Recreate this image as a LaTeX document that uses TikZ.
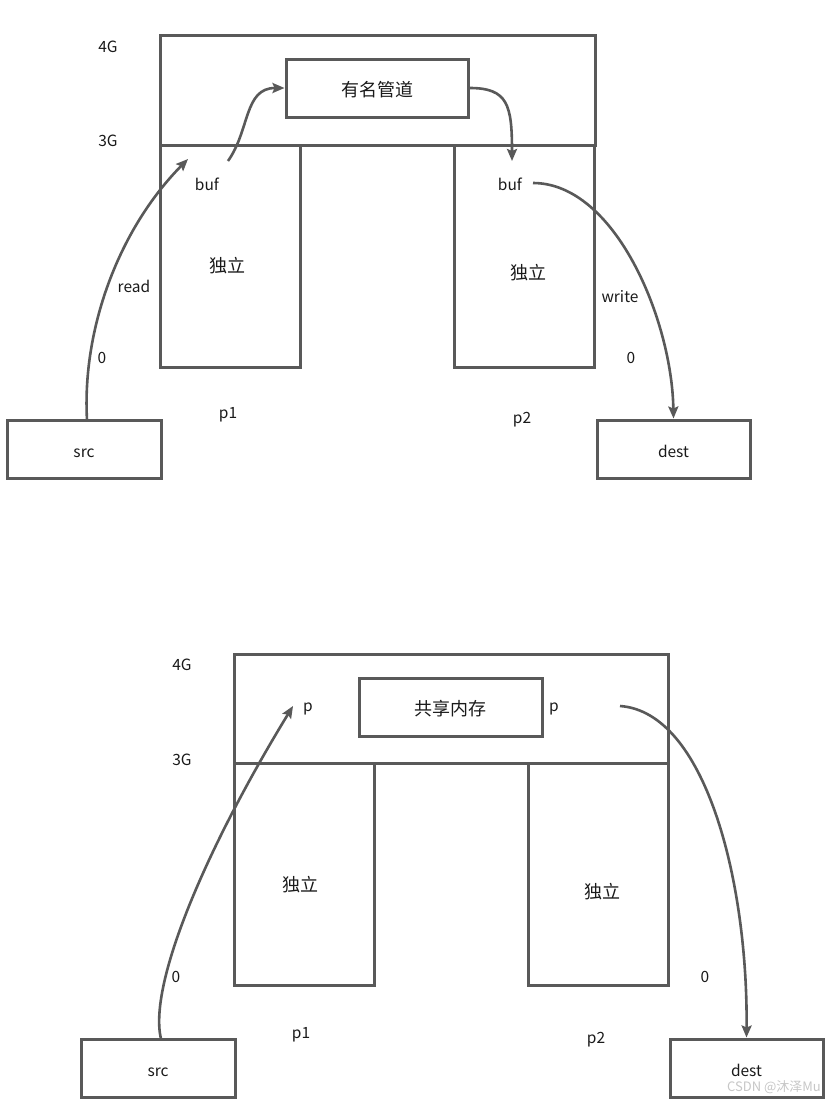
\documentclass[tikz,border=0pt]{standalone}
\usepackage{fontspec}
\setmainfont{Noto Sans CJK SC}
\usetikzlibrary{arrows.meta}
\definecolor{ln}{HTML}{595959}
\definecolor{tx}{HTML}{1A1A1A}
\tikzset{
  box/.style={draw=ln, line width=3pt, inner sep=0pt},
  lbl/.style={text=tx, font=\fontsize{15.5pt}{18pt}\selectfont, inner sep=0pt},
  cjk/.style={text=tx, font=\fontsize{18pt}{20pt}\selectfont, inner sep=0pt},
  lowlat/.style={text height=16pt, text depth=0pt},
  lowcjk/.style={text height=16pt, text depth=0pt},
  conn/.style={draw=ln, line width=2.6pt, -{Stealth[length=12pt,width=10pt,inset=2pt]}},
}
\begin{document}
\begin{tikzpicture}[x=1pt,y=-1pt]
\useasboundingbox[fill=white] (0,0) rectangle (834,1103);
% ---------- top diagram ----------
\draw[box] (160,35) rectangle (595,145);
\draw[box] (160,145) rectangle (300,367);
\draw[box] (454,145) rectangle (594,367);
\node[box, minimum width=182pt, minimum height=58pt, cjk, lowcjk] (pipe) at (377,88) {有名管道};
\node[box, minimum width=154pt, minimum height=58pt, lbl, lowlat] (src1) at (84,449) {src};
\node[box, minimum width=153pt, minimum height=58pt, lbl, lowlat] (dest1) at (673.5,449) {dest};
\node[lbl] (g4a) at (108,47) {4G};
\node[lbl] (g3a) at (108,141) {3G};
\node[lbl] (bufL) at (207,184) {buf};
\node[lbl] (bufR) at (510,184) {buf};
\node[cjk] (indL1) at (227,266) {独立};
\node[cjk] (indR1) at (528,273) {独立};
\node[lbl] (read) at (134,286) {read};
\node[lbl] (write) at (620,297) {write};
\node[lbl] (zL1) at (102,358) {0};
\node[lbl] (zR1) at (631,358) {0};
\node[lbl] (p1a) at (228,415) {p1};
\node[lbl] (p2a) at (522,420) {p2};
\coordinate (s1) at (87,420);
\coordinate (t1) at (188,159);
\coordinate (u1) at (228,161);
\coordinate (v1) at (512,161);
\coordinate (w1) at (533,183);
\draw[conn] (s1) .. controls (82,330) and (118,230) .. (t1);
\draw[conn] (u1) .. controls (250,130) and (244,88) .. (pipe.west);
\draw[conn] (pipe.east) .. controls (508,88) and (512,105) .. (v1);
\draw[conn] (w1) .. controls (615,183) and (672,320) .. (dest1.north);
% ---------- bottom diagram ----------
\draw[box] (234,654) rectangle (668,763);
\draw[box] (234,763) rectangle (374,985);
\draw[box] (528,763) rectangle (668,985);
\node[box, minimum width=183pt, minimum height=58pt, cjk, lowcjk] (shm) at (450.5,707) {共享内存};
\node[box, minimum width=154pt, minimum height=58pt, lbl, lowlat] (src2) at (158,1068) {src};
\node[box, minimum width=153pt, minimum height=58pt, lbl, lowlat] (dest2) at (746.5,1068) {dest};
\node[lbl] (g4b) at (182,665) {4G};
\node[lbl] (g3b) at (182,760) {3G};
\node[lbl] (pL) at (308,709) {p};
\node[lbl] (pR) at (554,709) {p};
\node[cjk] (indL2) at (300,885) {独立};
\node[cjk] (indR2) at (602,892) {独立};
\node[lbl] (zL2) at (176,977) {0};
\node[lbl] (zR2) at (705,977) {0};
\node[lbl] (p1b) at (301,1035) {p1};
\node[lbl] (p2b) at (596,1040) {p2};
\coordinate (s2) at (161,1039);
\coordinate (t2) at (293,706);
\coordinate (w2) at (620,706);
\draw[conn] (s2) .. controls (148,985) and (205,850) .. (t2);
\draw[conn] (w2) .. controls (705,712) and (748,880) .. (dest2.north);
\node[text=black!22, font=\fontsize{13pt}{15pt}\selectfont, inner sep=0pt, anchor=east] (wm) at (821,1087) {CSDN @沐泽Mu};
\end{tikzpicture}
\end{document}
